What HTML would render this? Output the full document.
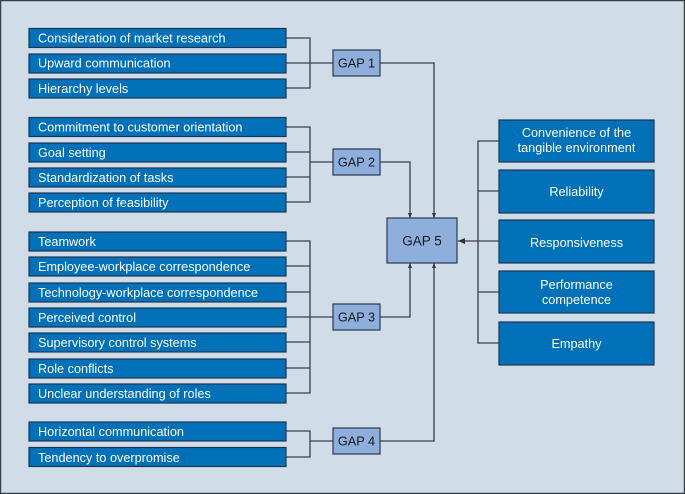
<!DOCTYPE html>
<html><head><meta charset="utf-8"><style>
html,body{margin:0;padding:0;background:#d0dce8}
svg{display:block}
text{font-family:"Liberation Sans",Arial,sans-serif}
</style></head><body>
<svg width="685" height="494" viewBox="0 0 685 494" xmlns="http://www.w3.org/2000/svg">
<defs><marker id="a" markerWidth="8" markerHeight="8" refX="7" refY="4" orient="auto" markerUnits="userSpaceOnUse"><path d="M0,1 L7,4 L0,7 z" fill="#333"/></marker>
<marker id="s" markerWidth="6" markerHeight="6" refX="5" refY="3" orient="auto" markerUnits="userSpaceOnUse"><path d="M0,1 L5,3 L0,5 z" fill="#333"/></marker></defs>
<rect x="0.5" y="0.5" width="684" height="493" fill="#d0dce8" stroke="#3a4048" stroke-width="1.5"/>
<g fill="none" stroke="#3a4048" stroke-width="1.3">
<polyline points="286,38 310,38 310,88 286,88"/><line x1="286" y1="63" x2="333" y2="63"/>
<polyline points="286,127 310,127 310,202 286,202"/><line x1="286" y1="152" x2="310" y2="152"/><line x1="286" y1="177" x2="310" y2="177"/><line x1="310" y1="162" x2="333" y2="162"/>
<polyline points="286,241 310,241 310,393 286,393"/>
<line x1="286" y1="266" x2="310" y2="266"/><line x1="286" y1="292" x2="310" y2="292"/><line x1="286" y1="317" x2="333" y2="317"/><line x1="286" y1="342" x2="310" y2="342"/><line x1="286" y1="368" x2="310" y2="368"/>
<polyline points="286,431 310,431 310,457 286,457"/><line x1="310" y1="441" x2="333" y2="441"/>
<polyline points="380,63 434,63 434,218" marker-end="url(#s)"/>
<polyline points="380,162 410,162 410,218" marker-end="url(#s)"/>
<polyline points="380,317 410,317 410,263" marker-end="url(#s)"/>
<polyline points="380,441 434,441 434,263" marker-end="url(#s)"/>
<polyline points="499,141 478,141 478,343 499,343"/>
<line x1="478" y1="191" x2="499" y2="191"/><line x1="478" y1="292" x2="499" y2="292"/>
<line x1="499" y1="241" x2="458" y2="241" marker-end="url(#a)"/>
</g>
<g fill="#0070b8" stroke="#1f3550" stroke-width="1.2">
<rect x="29" y="28.5" width="257" height="19"/><rect x="29" y="54" width="257" height="19"/><rect x="29" y="79" width="257" height="19"/>
<rect x="29" y="117.5" width="257" height="19"/><rect x="29" y="143" width="257" height="19"/><rect x="29" y="168" width="257" height="19"/><rect x="29" y="193" width="257" height="19"/>
<rect x="29" y="232" width="257" height="19"/><rect x="29" y="257" width="257" height="19"/><rect x="29" y="283" width="257" height="19"/><rect x="29" y="308" width="257" height="19"/><rect x="29" y="333" width="257" height="19"/><rect x="29" y="359" width="257" height="19"/><rect x="29" y="384" width="257" height="19"/>
<rect x="29" y="422" width="257" height="19"/><rect x="29" y="447.5" width="257" height="19"/>
<rect x="499" y="120" width="155" height="42"/><rect x="499" y="170" width="155" height="43"/><rect x="499" y="220" width="155" height="43"/><rect x="499" y="271" width="155" height="42"/><rect x="499" y="322" width="155" height="43"/>
</g>
<g fill="#8eaedc" stroke="#2a3a50" stroke-width="1.2">
<rect x="333" y="50" width="47" height="26"/><rect x="333" y="149" width="47" height="26"/><rect x="333" y="304" width="47" height="26"/><rect x="333" y="428" width="47" height="26"/>
<rect x="387" y="218" width="70" height="45"/>
</g>
<g fill="#fff" font-size="12.7">
<text x="38" y="42.5">Consideration of market research</text>
<text x="38" y="67.5">Upward communication</text>
<text x="38" y="93">Hierarchy levels</text>
<text x="38" y="131.5">Commitment to customer orientation</text>
<text x="38" y="157">Goal setting</text>
<text x="38" y="182">Standardization of tasks</text>
<text x="38" y="207">Perception of feasibility</text>
<text x="38" y="246">Teamwork</text>
<text x="38" y="271">Employee-workplace correspondence</text>
<text x="38" y="297">Technology-workplace correspondence</text>
<text x="38" y="322">Perceived control</text>
<text x="38" y="347">Supervisory control systems</text>
<text x="38" y="373">Role conflicts</text>
<text x="38" y="398">Unclear understanding of roles</text>
<text x="38" y="436">Horizontal communication</text>
<text x="38" y="462">Tendency to overpromise</text>
</g>
<g fill="#fff" font-size="12.7" text-anchor="middle">
<text x="576.5" y="137">Convenience of the</text>
<text x="576.5" y="152">tangible environment</text>
<text x="576.5" y="196">Reliability</text>
<text x="576.5" y="247">Responsiveness</text>
<text x="576.5" y="289">Performance</text>
<text x="576.5" y="304">competence</text>
<text x="576.5" y="348">Empathy</text>
</g>
<g fill="#1a1a1a" font-size="12.7" text-anchor="middle">
<text x="356.5" y="67.5">GAP 1</text>
<text x="356.5" y="166.5">GAP 2</text>
<text x="356.5" y="321.5">GAP 3</text>
<text x="356.5" y="445.5">GAP 4</text>
<text x="422" y="245.5" font-size="13.5">GAP 5</text>
</g>
</svg>
</body></html>
